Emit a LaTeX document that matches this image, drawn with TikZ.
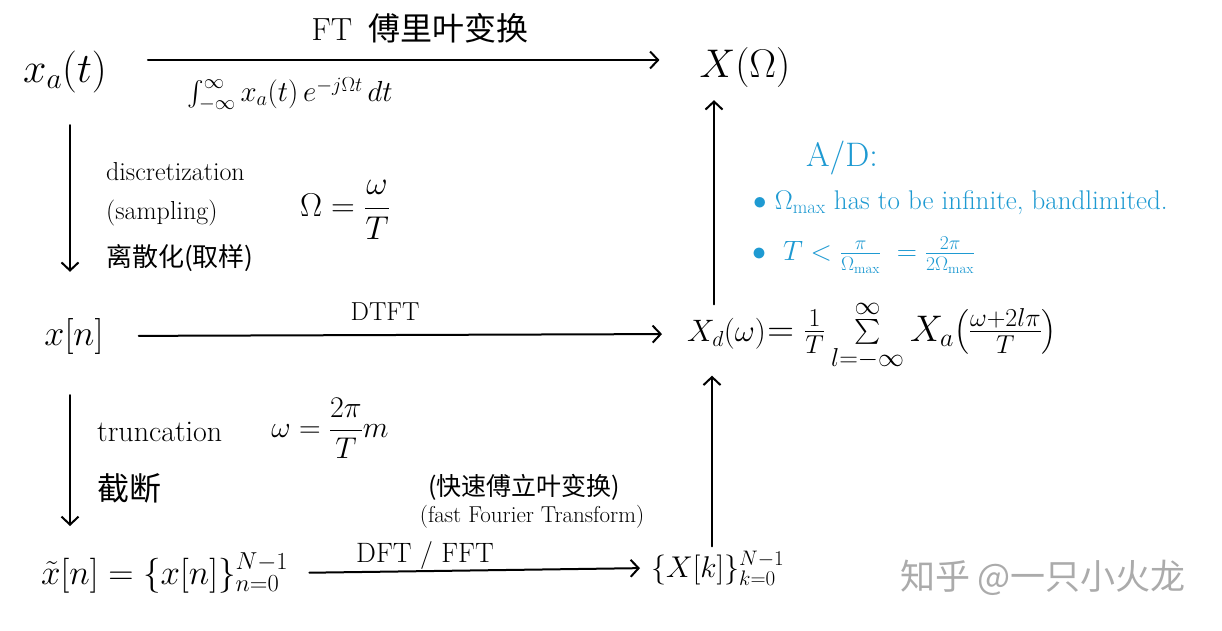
\RequirePackage{fix-cm}
\documentclass[tikz,border=0pt]{standalone}
\usepackage{amsmath}
\usepackage{fontspec}
\newfontfamily\cjk{Noto Sans CJK SC}
\usetikzlibrary{arrows.meta}
\definecolor{adblue}{HTML}{1E9AD2}
\begin{document}
\begin{tikzpicture}[x=1pt,y=-1pt,
  mid/.style={font=\fontsize{26}{30}\selectfont, inner sep=1pt},
  arr/.style={line width=2pt, line cap=round, -{Straight Barb[length=8pt,width=17pt,line width=2pt]}},
  blu/.style={text=adblue, inner sep=1pt}]
\useasboundingbox (0,0) rectangle (1222,631);
\fill[white] (0,0) rectangle (1222,631);
% main nodes
\node[font=\fontsize{42}{46}\selectfont, inner sep=1pt] (xa) at (65,72) {$x_a(t)$};
\node[font=\fontsize{40}{44}\selectfont, inner sep=1pt] (XO) at (745,68) {$X(\Omega)$};
\node[font=\fontsize{36}{40}\selectfont, inner sep=1pt] (xn) at (74,336) {$x[n]$};
\node[font=\fontsize{31}{35}\selectfont, inner sep=1pt, anchor=west] (Xd) at (686,334) {$X_d(\omega)$};
\node[font=\fontsize{37}{40}\selectfont, inner sep=0pt, anchor=west] (Xdeq) at ([yshift=-2pt]Xd.east) {$=\frac{1}{T}\sum\limits_{l=-\infty}^{\infty} X_a\bigl(\frac{\omega+2l\pi}{T}\bigr)$};
\node[font=\fontsize{35}{39}\selectfont, inner sep=1pt, anchor=west] (xt) at (40,573) {$\tilde{x}[n]=\{x[n]\}_{n=0}^{N-1}$};
\node[font=\fontsize{30}{34}\selectfont, inner sep=1pt, anchor=west] (Xk) at (650,568) {$\{X[k]\}_{k=0}^{N-1}$};
% horizontal connectors
\draw[arr, shorten <=40pt, shorten >=39pt] ([yshift=12pt]xa.east) -- ([yshift=8pt]XO.west);
\draw[arr, shorten <=34pt, shorten >=24pt] (xn.east) -- (Xd.west);
\draw[arr, shorten <=20pt, shorten >=10pt] (xt.east) -- (Xk.west);
% vertical connectors
\draw[arr, shorten <=31pt, shorten >=45pt] ([xshift=5pt]xa.south) -- ([xshift=5pt]xa.south |- xn.north);
\draw[arr, shorten <=40pt, shorten >=26pt] ([xshift=-4pt]xn.south) -- ([xshift=-4pt]xn.south |- xt.north);
\draw[arr, shorten <=13pt, shorten >=11pt] ([xshift=28pt]Xd.north west) -- ([xshift=28pt]Xd.north west |- XO.south);
\draw[arr, shorten <=3pt, shorten >=25pt] ([xshift=62pt]Xk.north west) -- ([xshift=62pt]Xk.north west |- Xd.south);
% labels on top arrow
\node[font=\fontsize{32}{36}\selectfont, inner sep=1pt] (ft) at (420,28) {FT\hspace{0.5em}{\cjk 傅里叶变换}};
\node[font=\fontsize{29}{33}\selectfont, inner sep=1pt] (ftint) at (290,94) {$\int_{-\infty}^{\infty} x_a(t)\,e^{-j\Omega t}\,dt$};
% sampling labels
\node[mid, anchor=west] (disc) at (105,172) {discretization};
\node[mid, anchor=west] (samp) at (105,213) {(sampling)};
\node[mid, anchor=west] (lisan) at (105,258) {\cjk 离散化(取样)};
\node[font=\fontsize{33}{37}\selectfont, inner sep=1pt] (Ow) at (345,210) {$\Omega=\dfrac{\omega}{T}$};
% DTFT
\node[mid] (dtft) at (385,312) {DTFT};
% truncation labels
\node[font=\fontsize{30}{34}\selectfont, inner sep=1pt, anchor=west] (trunc) at (96,432) {truncation};
\node[font=\fontsize{30}{34}\selectfont, inner sep=1pt] (w2pi) at (330,428) {$\omega=\dfrac{2\pi}{T}m$};
\node[font=\fontsize{32}{36}\selectfont, inner sep=1pt, anchor=west] (jieduan) at (96,488) {\cjk 截断};
\node[font=\fontsize{25}{29}\selectfont, inner sep=1pt] (kuaisu) at (524,487) {\cjk (快速傅立叶变换)};
\node[font=\fontsize{23}{26}\selectfont, inner sep=1pt] (fastft) at (532,517) {(fast Fourier Transform)};
\node[font=\fontsize{28}{32}\selectfont, inner sep=1pt] (dft) at (425,555) {DFT / FFT};
% A/D notes
\node[blu, font=\fontsize{34}{38}\selectfont] (ad) at (842,158) {A/D:};
\node[blu, anchor=west, font=\fontsize{27}{30}\selectfont] (ad1) at (752,203) {$\bullet$\ $\Omega_{\max}$ has to be infinite, bandlimited.};
\node[blu, anchor=west, font=\fontsize{28}{31}\selectfont, inner sep=0pt] (ad2) at (752,255) {$\bullet$\ \ $T<\frac{\pi}{\Omega_{\max}}\;=\frac{2\pi}{2\Omega_{\max}}$};
% watermark
\node[text=black!33, font=\cjk\fontsize{35}{40}\selectfont] (wm) at (1043,578) {知乎 @一只小火龙};
\end{tikzpicture}
\end{document}
